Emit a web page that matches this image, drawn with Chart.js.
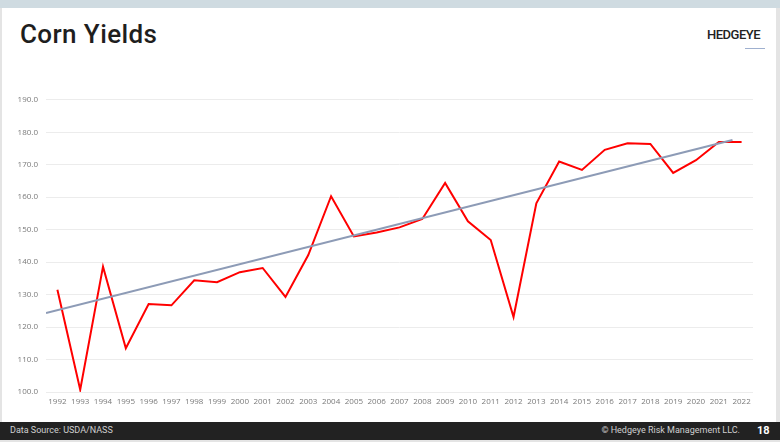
<!DOCTYPE html>
<html>
<head>
<meta charset="utf-8">
<script src="https://cdn.jsdelivr.net/npm/chart.js@4"></script>
<style>
    body { margin: 0; width: 780px; height: 442px; background: #e4e4e4; overflow: hidden; font-family: Roboto, sans-serif; }
    .slide { position: absolute; left: 2px; top: 0; width: 774px; height: 422px; background: #fff; }
    .topband { position: absolute; left: 0; top: 0; width: 780px; height: 8px; background: #cfdbe1; }
    .title { position: absolute; left: 20px; top: 19px; font-size: 26px; font-weight: 500; color: #1e1e1e; letter-spacing: 0.4px; }
    .logo { position: absolute; left: 707px; top: 27px; font-size: 13px; font-weight: 500; color: #222; letter-spacing: -0.5px; }
    .logo-line { position: absolute; left: 745px; top: 48px; width: 20px; height: 1px; background: #9fb0cf; }
    .footer { position: absolute; left: 0; top: 422px; width: 780px; height: 18px; background: #222; color: #cfcfcf; font-size: 9px; }
    .footer .src { position: absolute; left: 10px; top: 3px; }
    .footer .copy { position: absolute; right: 40px; top: 3px; }
    .footer .page { position: absolute; left: 757px; top: 2px; font-size: 11px; font-weight: 700; color: #fff; }
    .chart-box { position: absolute; left: 0; top: 87px; width: 770px; height: 333px; }
</style>
</head>
<body>
<div class="slide"></div>
<div class="topband"></div>
<div class="title">Corn Yields</div>
<div class="logo">HEDGEYE</div>
<div class="logo-line"></div>
<div class="chart-box"><canvas id="cornChart"></canvas></div>
<div class="footer">
    <span class="src">Data Source: USDA/NASS</span>
    <span class="copy">© Hedgeye Risk Management LLC.</span>
    <span class="page">18</span>
</div>
<script>
// values (bu/acre)
const years = [1992, 1993, 1994, 1995, 1996, 1997, 1998, 1999, 2000, 2001,
    2002, 2003, 2004, 2005, 2006, 2007, 2008, 2009, 2010, 2011,
    2012, 2013, 2014, 2015, 2016, 2017, 2018, 2019, 2020, 2021, 2022];
const yields = [131.5, 100.7, 138.6, 113.5, 127.1, 126.7, 134.4, 133.8, 136.9, 138.2,
    129.3, 142.2, 160.3, 147.9, 149.1, 150.7, 153.3, 164.4, 152.6, 146.8,
    123.1, 158.1, 171.0, 168.4, 174.6, 176.6, 176.4, 167.5, 171.4, 177.0, 177.0];
// trendline end points as drawn
const trendYears = [1991.5, 2021.6];
const trendValues = [124.3, 177.6];
const yTicks = [100, 110, 120, 130, 140, 150, 160, 170, 180, 190];

const tickFont = { family: "'Open Sans', sans-serif", size: 8 };

new Chart(document.getElementById('cornChart'), {
    type: 'line',
    data: {
        datasets: [
            {
                label: 'Trend',
                data: trendYears.map((y, i) => ({ x: y, y: trendValues[i] })),
                borderColor: '#8d9bb6',
                borderWidth: 2,
                pointRadius: 0,
                tension: 0
            },
            {
                label: 'Corn Yield',
                data: years.map((y, i) => ({ x: y, y: yields[i] })),
                borderColor: '#ff0000',
                borderWidth: 2,
                pointRadius: 0,
                tension: 0
            }
        ]
    },
    options: {
        responsive: true,
        maintainAspectRatio: false,
        animation: false,
        layout: { padding: { top: 5, right: 17, bottom: 0, left: 0 } },
        plugins: { legend: { display: false }, tooltip: { enabled: false } },
        scales: {
            x: {
                type: 'linear',
                min: 1991.5,
                max: 2022.5,
                grid: { display: false, drawTicks: false },
                border: { display: false },
                afterBuildTicks: scale => { scale.ticks = years.map(v => ({ value: v })); },
                afterFit: scale => { scale.height = 28; },
                ticks: {
                    autoSkip: false,
                    maxRotation: 0,
                    padding: 5,
                    color: '#7a7a7a',
                    font: tickFont,
                    callback: v => String(v)
                }
            },
            y: {
                min: 100,
                max: 190,
                grid: { color: '#ececec', lineWidth: 1, drawTicks: false },
                border: { display: false },
                afterBuildTicks: scale => { scale.ticks = yTicks.map(v => ({ value: v })); },
                afterFit: scale => { scale.width = 46; },
                ticks: {
                    padding: 8,
                    color: '#7a7a7a',
                    font: tickFont,
                    callback: v => v.toFixed(1)
                }
            }
        }
    }
});
</script>
</body>
</html>
